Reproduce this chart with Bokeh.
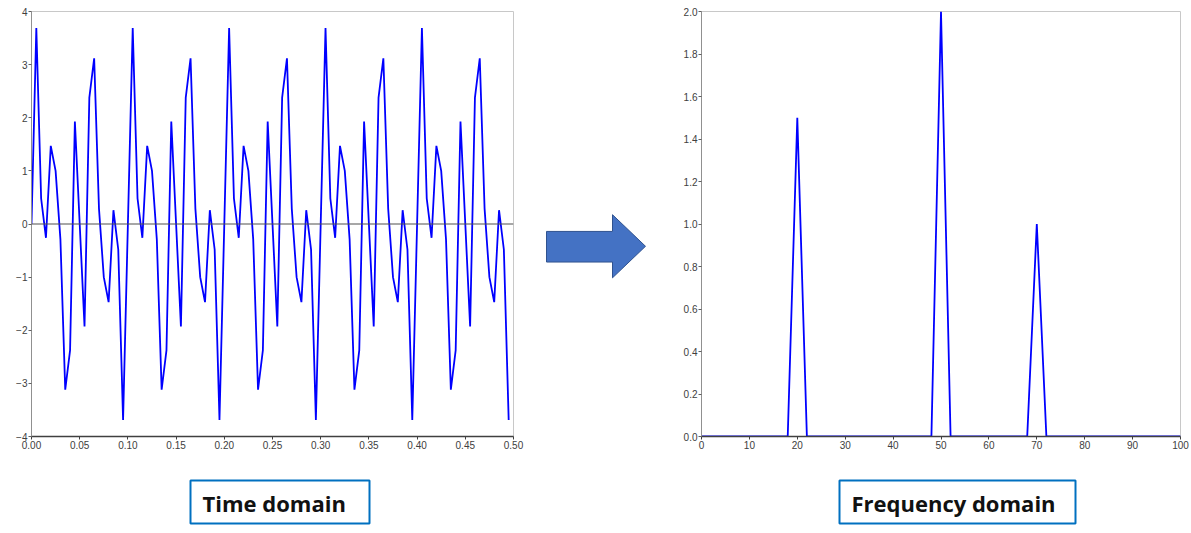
from bokeh.plotting import figure
from bokeh.layouts import column, row
from bokeh.models import Range1d, FixedTicker, NumeralTickFormatter, Span
from bokeh.core.properties import value
from bokeh.embed import file_html
from bokeh.resources import INLINE

# ---- data: time domain (s, amplitude) ----
time_s = [
    0.000, 0.005, 0.010, 0.015, 0.020, 0.025, 0.030, 0.035, 0.040, 0.045,
    0.050, 0.055, 0.060, 0.065, 0.070, 0.075, 0.080, 0.085, 0.090, 0.095,
    0.100, 0.105, 0.110, 0.115, 0.120, 0.125, 0.130, 0.135, 0.140, 0.145,
    0.150, 0.155, 0.160, 0.165, 0.170, 0.175, 0.180, 0.185, 0.190, 0.195,
    0.200, 0.205, 0.210, 0.215, 0.220, 0.225, 0.230, 0.235, 0.240, 0.245,
    0.250, 0.255, 0.260, 0.265, 0.270, 0.275, 0.280, 0.285, 0.290, 0.295,
    0.300, 0.305, 0.310, 0.315, 0.320, 0.325, 0.330, 0.335, 0.340, 0.345,
    0.350, 0.355, 0.360, 0.365, 0.370, 0.375, 0.380, 0.385, 0.390, 0.395,
    0.400, 0.405, 0.410, 0.415, 0.420, 0.425, 0.430, 0.435, 0.440, 0.445,
    0.450, 0.455, 0.460, 0.465, 0.470, 0.475, 0.480, 0.485, 0.490, 0.495,
]
signal = [
    0.00, 3.69, 0.48, -0.26, 1.47, 1.00, -0.29, -3.12, -2.38, 1.93,
    0.00, -1.93, 2.38, 3.12, 0.29, -1.00, -1.47, 0.26, -0.48, -3.69,
    0.00, 3.69, 0.48, -0.26, 1.47, 1.00, -0.29, -3.12, -2.38, 1.93,
    0.00, -1.93, 2.38, 3.12, 0.29, -1.00, -1.47, 0.26, -0.48, -3.69,
    0.00, 3.69, 0.48, -0.26, 1.47, 1.00, -0.29, -3.12, -2.38, 1.93,
    0.00, -1.93, 2.38, 3.12, 0.29, -1.00, -1.47, 0.26, -0.48, -3.69,
    0.00, 3.69, 0.48, -0.26, 1.47, 1.00, -0.29, -3.12, -2.38, 1.93,
    0.00, -1.93, 2.38, 3.12, 0.29, -1.00, -1.47, 0.26, -0.48, -3.69,
    0.00, 3.69, 0.48, -0.26, 1.47, 1.00, -0.29, -3.12, -2.38, 1.93,
    0.00, -1.93, 2.38, 3.12, 0.29, -1.00, -1.47, 0.26, -0.48, -3.69,
]

# ---- data: frequency domain (Hz, amplitude) ----
freq_hz = [
    0, 2, 4, 6, 8, 10, 12, 14, 16, 18, 20, 22, 24, 26, 28, 30, 32, 34, 36, 38,
    40, 42, 44, 46, 48, 50, 52, 54, 56, 58, 60, 62, 64, 66, 68, 70, 72, 74, 76,
    78, 80, 82, 84, 86, 88, 90, 92, 94, 96, 98, 100,
]
spectrum = [
    0, 0, 0, 0, 0, 0, 0, 0, 0, 0, 1.5, 0, 0, 0, 0, 0, 0, 0, 0, 0,
    0, 0, 0, 0, 0, 2.0, 0, 0, 0, 0, 0, 0, 0, 0, 0, 1.0, 0, 0, 0,
    0, 0, 0, 0, 0, 0, 0, 0, 0, 0, 0, 0,
]

time_ticks = [0.0, 0.05, 0.10, 0.15, 0.20, 0.25, 0.30, 0.35, 0.40, 0.45, 0.50]
amp_ticks = [-4, -3, -2, -1, 0, 1, 2, 3, 4]
freq_ticks = [0, 10, 20, 30, 40, 50, 60, 70, 80, 90, 100]
spec_ticks = [0.0, 0.2, 0.4, 0.6, 0.8, 1.0, 1.2, 1.4, 1.6, 1.8, 2.0]

labels = ["Time domain", "Frequency domain"]

LINE = "#0000ff"
FONT = "Liberation Sans"


def style(p):
    p.grid.visible = False
    p.outline_line_color = "#c8c8c8"
    p.outline_line_width = 1
    p.background_fill_color = "white"
    p.border_fill_color = "white"
    for ax in (p.xaxis[0], p.yaxis[0]):
        ax.minor_tick_line_color = None
        ax.major_tick_in = 0
        ax.major_tick_out = 3
        ax.major_label_text_font = FONT
        ax.major_label_text_font_size = "10px"
        ax.major_label_text_color = "#404040"
        ax.major_label_standoff = 1
    p.yaxis[0].axis_line_color = "#909090"
    p.yaxis[0].major_tick_line_color = "#606060"
    p.xaxis[0].axis_line_color = "#404040"
    p.xaxis[0].axis_line_width = 1.5
    p.xaxis[0].major_tick_line_color = "#404040"


TOP_H = 458

# ---- time-domain chart ----
p1 = figure(width=538, height=TOP_H, x_range=Range1d(0, 0.5), y_range=Range1d(-4, 4),
            output_backend="svg", toolbar_location=None,
            min_border_left=31, min_border_right=25, min_border_top=11, min_border_bottom=22)
style(p1)
p1.xaxis[0].ticker = FixedTicker(ticks=time_ticks)
p1.xaxis[0].formatter = NumeralTickFormatter(format="0.00")
p1.yaxis[0].ticker = FixedTicker(ticks=amp_ticks)
p1.add_layout(Span(location=0, dimension="width", line_color="#505050", line_width=1.2))
p1.line(time_s, signal, line_color=LINE, line_width=1.8)

# ---- arrow ----
pa = figure(width=142, height=TOP_H, x_range=Range1d(0, 142), y_range=Range1d(TOP_H, 0),
            output_backend="svg", toolbar_location=None,
            min_border=0, min_border_left=0, min_border_right=0, min_border_top=0, min_border_bottom=0)
pa.axis.visible = False
pa.grid.visible = False
pa.outline_line_color = None
pa.patch([8, 74, 74, 107, 74, 74, 8], [237, 237, 219, 253, 287, 270, 270],
         fill_color="#4472c4", line_color="#2f528f", line_width=1)

# ---- frequency-domain chart ----
p2 = figure(width=511, height=TOP_H, x_range=Range1d(0, 100), y_range=Range1d(0, 2),
            output_backend="svg", toolbar_location=None,
            min_border_left=20, min_border_right=11, min_border_top=11, min_border_bottom=22)
style(p2)
p2.xaxis[0].ticker = FixedTicker(ticks=freq_ticks)
p2.yaxis[0].ticker = FixedTicker(ticks=spec_ticks)
p2.yaxis[0].formatter = NumeralTickFormatter(format="0.0")
p2.line(freq_hz, spectrum, line_color=LINE, line_width=1.8)

# ---- caption boxes ----
pb = figure(width=1191, height=75, x_range=Range1d(0, 1191), y_range=Range1d(75, 0),
            output_backend="svg", toolbar_location=None,
            min_border=0, min_border_left=0, min_border_right=0, min_border_top=0, min_border_bottom=0)
pb.axis.visible = False
pb.grid.visible = False
pb.outline_line_color = None
box_left = [190, 839]
box_right = [369, 1075]
pb.quad(left=box_left, right=box_right, top=[22, 22], bottom=[65, 65],
        fill_color="white", line_color="#0070c0", line_width=2)
pb.text(x=[a + 12 for a in box_left], y=[44, 44], text=labels,
        text_font=value("Open Sans"), text_font_style="bold", text_font_size="22px",
        text_color="#111111", text_align="left", text_baseline="middle")

layout = column(row(p1, pa, p2), pb)
open("out.html", "w").write(file_html(layout, INLINE))
